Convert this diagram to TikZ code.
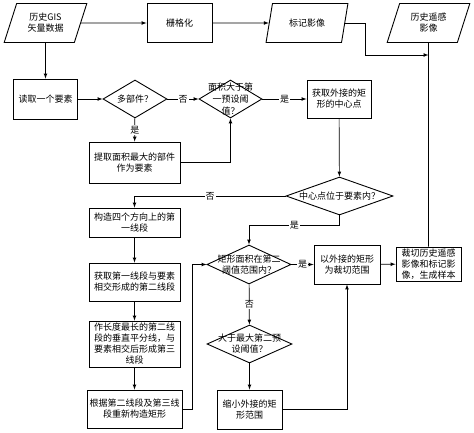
\documentclass[tikz,border=0pt]{standalone}
\usepackage{fontspec}
\newfontfamily\cjk{Noto Sans CJK SC}
\usetikzlibrary{positioning,shapes.geometric}

\begin{document}
\begin{tikzpicture}
      [x=1pt,y=-1pt,
      every node/.style={font=\cjk\fontsize{9}{11}\selectfont,align=center,inner sep=0pt},
      box/.style={draw=black,line width=0.9pt,rectangle},
      io/.style={draw=black,line width=0.9pt,trapezium,trapezium left angle=68,trapezium right angle=112,trapezium stretches=true,minimum height=39pt},
      dec/.style={draw=black,line width=0.9pt,diamond},
      tag/.style={fill=white,inner sep=1pt},
      line/.style={-latex,line width=0.7pt}]
     \useasboundingbox (0,0) rectangle (474,433);
     \node[io,minimum width=83pt] (gis) at (45.5,23) {历史GIS\\矢量数据};
     \node[box,minimum width=65pt,minimum height=39pt] (grid) at (179.5,23) {栅格化};
     \node[io,minimum width=82pt] (mark) at (307,23) {标记影像};
     \node[io,minimum width=83pt] (hist) at (428.5,23) {历史遥感\\影像};
     \node[box,minimum width=64pt,minimum height=40pt] (read) at (45.5,99) {读取一个要素};
     \node[dec,minimum width=64pt,minimum height=38pt] (multi) at (135,99) {};
     \node (multit) at (multi) {多部件？};
     \node[dec,minimum width=63pt,minimum height=38pt] (area) at (230.5,99) {};
     \node (areat) at (area) {面积大于第\\[1pt]一预设阈\\[1pt]值？};
     \node[box,minimum width=64pt,minimum height=38pt] (center) at (339,99) {获取外接的矩\\形的中心点};
     \node[box,minimum width=91pt,minimum height=41pt] (largest) at (134.5,162.5) {提取面积最大的部件\\作为要素};
     \node[dec,minimum width=107pt,minimum height=38pt] (inside) at (339.5,196) {};
     \node (insidet) at (inside) {中心点位于要素内？};
     \node[box,minimum width=91pt,minimum height=29pt] (seg1) at (134.5,222.5) {构造四个方向上的第\\一线段};
     \node[box,minimum width=91pt,minimum height=38pt] (seg2) at (134.5,282) {获取第一线段与要素\\相交形成的第二线段};
     \node[box,minimum width=91pt,minimum height=46pt] (seg3) at (134.5,344) {作长度最长的第二线\\段的垂直平分线，与\\要素相交后形成第三\\线段};
     \node[box,minimum width=95pt,minimum height=38pt] (rebuild) at (134.5,409) {根据第二线段及第三线\\段重新构造矩形};
     \node[dec,minimum width=84pt,minimum height=39pt] (range) at (249,264.5) {};
     \node (ranget) at (range) {矩形面积在第二\\阈值范围内？};
     \node[box,minimum width=66pt,minimum height=39pt] (clip) at (347,264.5) {以外接的矩形\\为裁切范围};
     \node[dec,minimum width=85pt,minimum height=38pt] (max) at (249.5,344) {};
     \node (maxt) at (max) {大于最大第二预\\设阈值？};
     \node[box,minimum width=65pt,minimum height=39pt] (shrink) at (249.5,409.5) {缩小外接的矩\\形范围};
     \node[box,minimum width=65pt,minimum height=34pt] (sample) at (428.5,264) {裁切历史遥感\\影像和标记影\\像，生成样本};
     \coordinate (bend) at (365,55);
     \coordinate (join) at (428.5,55);
     \coordinate (turn) at (339.5,225);
     \coordinate (loop) at (192,264.5);
     \draw[line] (gis) -- (grid);
     \draw[line] (grid) -- (mark);
     \draw[line] (mark) -| (bend) -- (join);
     \draw[line width=0.7pt] (hist) -- (sample);
     \draw[line] (gis) -- (read);
     \draw[line] (read) -- (multi);
     \draw[line] (multi) -- node[tag] {否} (area);
     \draw[line] (area) -- node[tag] {是} (center);
     \draw[line] (multi) -- node[tag] {是} (largest);
     \draw[line] (largest) -| (area);
     \draw[line] (center) -- (inside);
     \draw[line] (inside) -| node[tag,pos=0.25] {否} (seg1);
     \draw[line] (seg1) -- (seg2);
     \draw[line] (seg2) -- (seg3);
     \draw[line] (seg3) -- (rebuild);
     \draw[line] (inside) -- (turn) -| node[tag,pos=0.25] {是} (range);
     \draw[line] (rebuild) -| (loop) -- (range);
     \draw[line] (range) -- node[tag] {是} (clip);
     \draw[line] (clip) -- (sample);
     \draw[line] (range) -- node[tag] {否} (max);
     \draw[line] (max) -- (shrink);
     \draw[line] (shrink) -| (clip);
    \end{tikzpicture}
\end{document}
